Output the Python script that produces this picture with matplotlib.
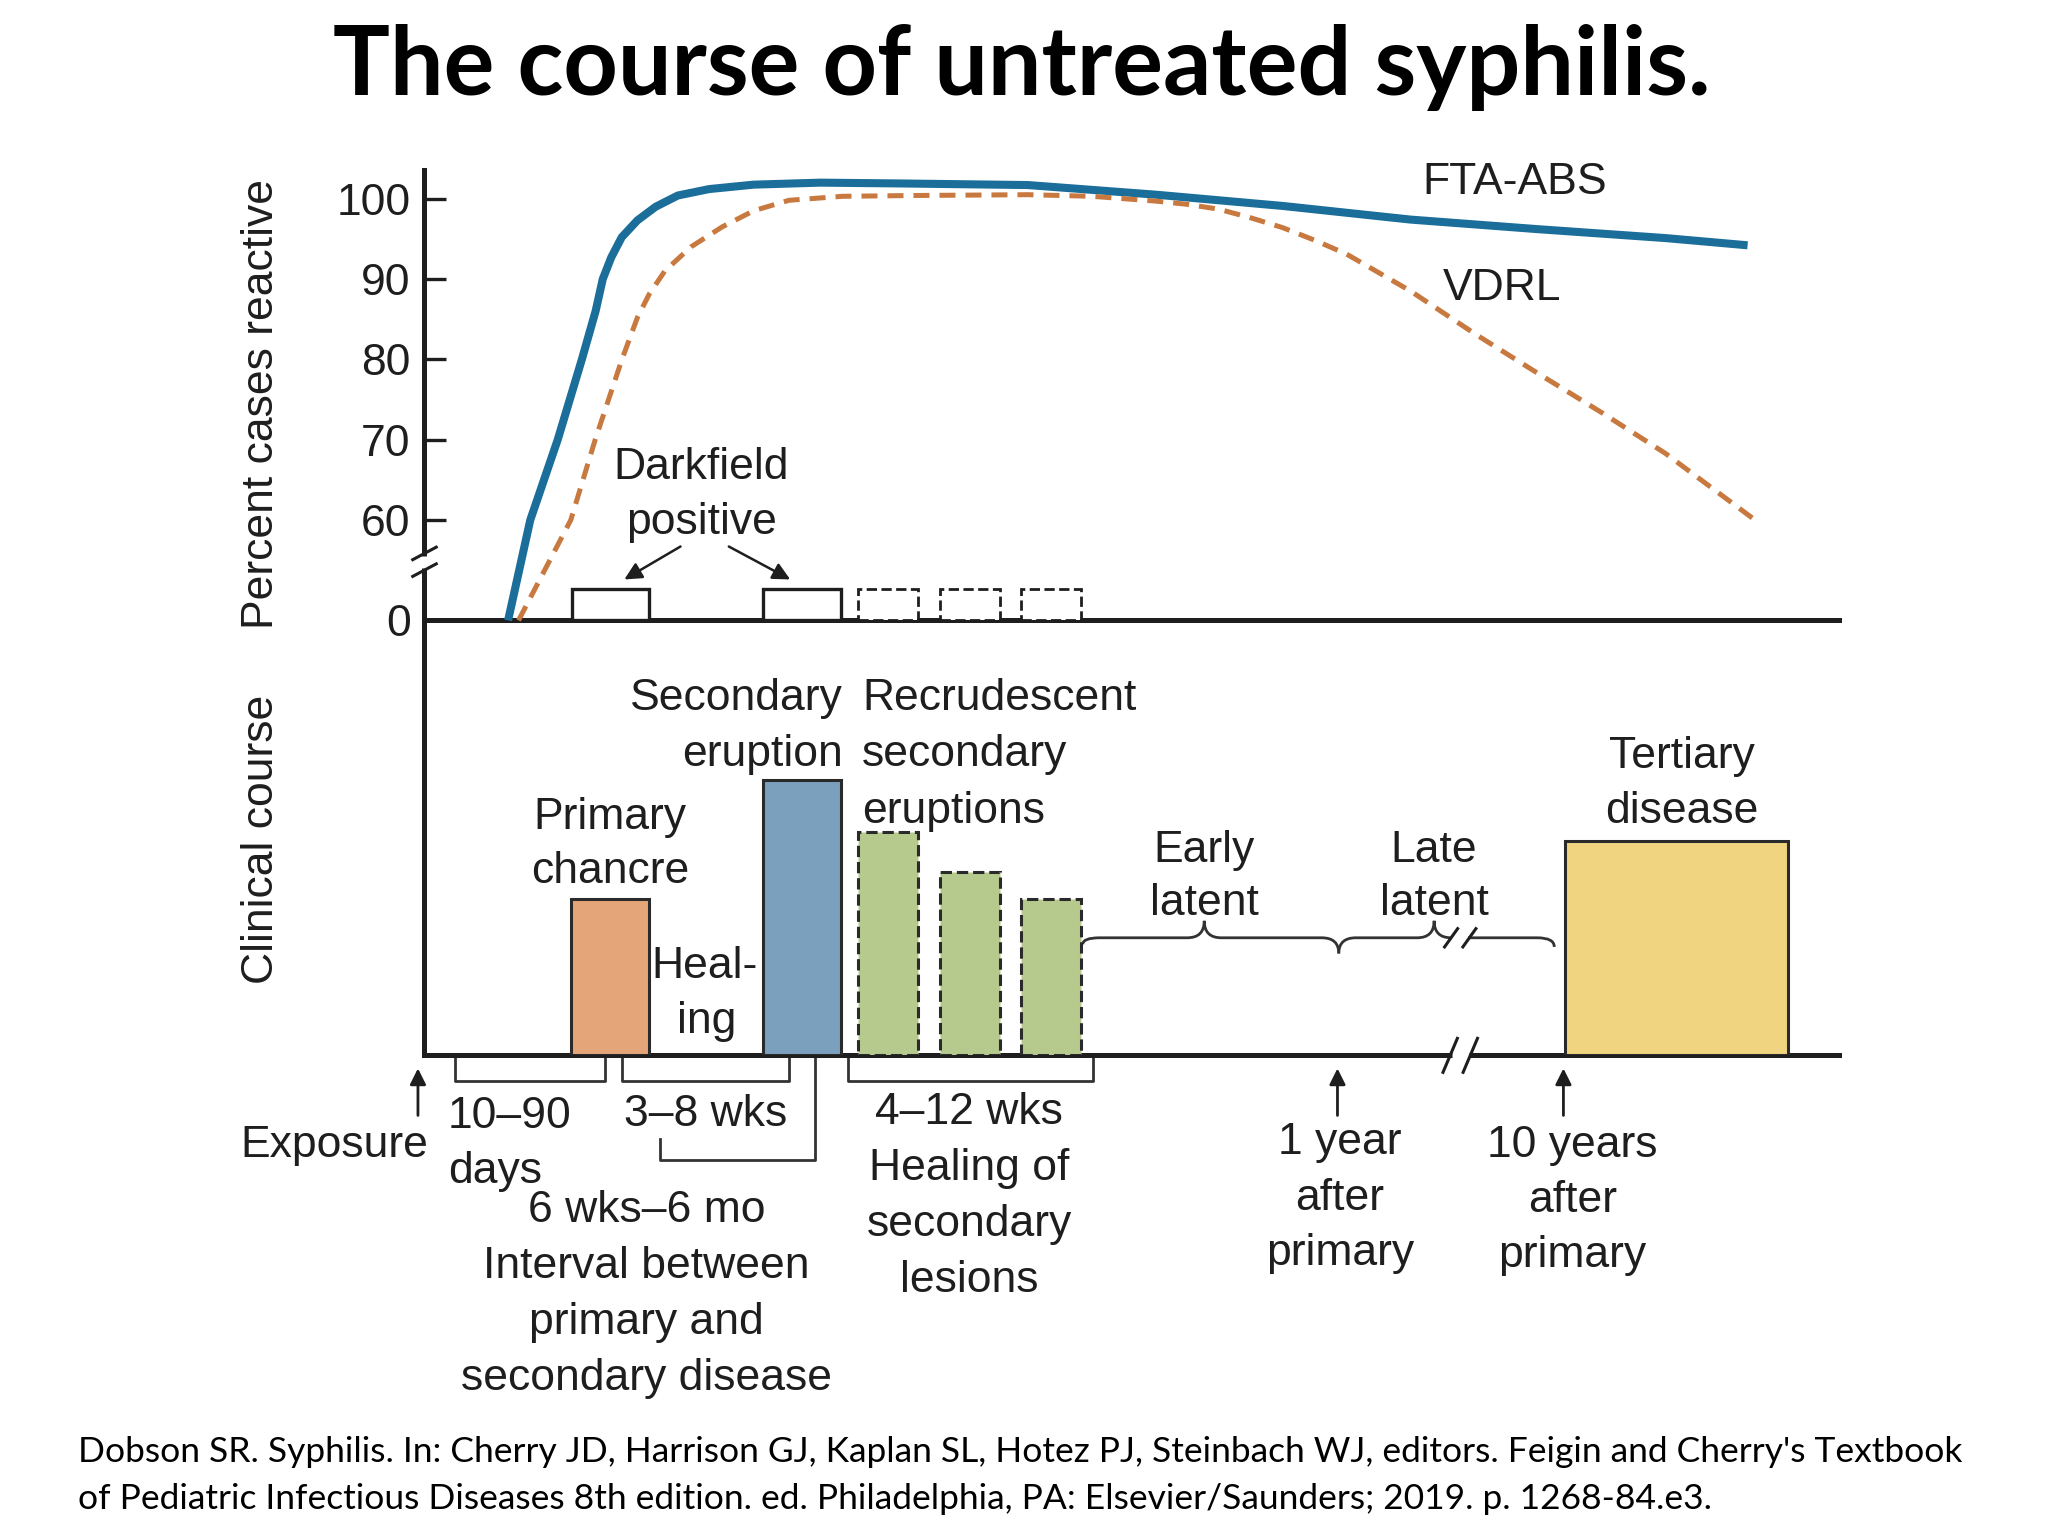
import matplotlib.pyplot as plt
from matplotlib.path import Path
from matplotlib.patches import PathPatch

# serology curves (x: schematic timeline units, y: percent of cases reactive)
fta_x = [6.4, 8.1, 10.2, 12.05, 13.1, 13.65, 14.3, 15.1, 16.3, 17.7, 19.4, 21.8,
         25.2, 30.3, 36.4, 46.2, 56.0, 65.7, 75.5, 85.3, 95.0, 101.3]
fta_y = [0, 60, 70, 80, 86, 90, 92.7, 95.2, 97.3, 99.0, 100.4, 101.2,
         101.75, 102.0, 101.9, 101.7, 100.5, 99.1, 97.4, 96.2, 95.1, 94.2]
vdrl_x = [7.2, 11.2, 13.07, 15.12, 16.3, 17.2, 18.4, 20.4, 22.8, 25.2, 27.9, 32.0,
          37.5, 46.2, 51.1, 56.0, 58.4, 60.8, 63.3, 65.7, 68.2, 70.6, 75.5, 80.4,
          85.3, 90.2, 95.0, 101.9]
vdrl_y = [0, 60, 70, 80, 85.2, 88.1, 91, 94, 96.5, 98.5, 99.8, 100.3,
          100.4, 100.5, 100.3, 99.7, 99.3, 98.7, 97.6, 96.4, 94.8, 93.1, 88.5, 83.2,
          78.2, 73.3, 68.3, 59.8]

# darkfield positive boxes
dark_start = [11.3, 25.9, 33.2, 39.5, 45.7]
dark_width = [5.9, 6.0, 4.6, 4.6, 4.6]
dark_dashed = [False, False, True, True, True]

# clinical course bars
bar_start = [11.2, 25.9, 33.2, 39.5, 45.7, 87.3]
bar_width = [6.0, 6.0, 4.6, 4.6, 4.6, 17.1]
bar_height = [12.0, 21.1, 17.1, 14.0, 12.0, 16.4]
bar_colors = ['#e4a678', '#7ba0be', '#b6ca8e', '#b6ca8e', '#b6ca8e', '#f0d480']
bar_dashed = [False, False, True, True, True, False]

pct_ticks = [0, 60, 70, 80, 90, 100]

FONT = 'Liberation Sans'
FS = 32
INK = '#1e1e1e'
BREAK0 = 47.5  # where 0 % sits below the axis break


def squash(p):
    # values under 60 are compressed into the break zone
    return [v if v >= 60 else BREAK0 + v * (60 - BREAK0) / 60 for v in p]


def txt(ax, x, y, s, ha='center', **kw):
    ax.text(x, y, s, ha=ha, va='center', fontsize=FS, family=FONT, color=INK, **kw)


def stack(ax, x, y, lines, step, ha='center'):
    for i, s in enumerate(lines):
        txt(ax, x, y - i * step, s, ha=ha)


def brace(ax, xa, xm, xb, y0, h, da, db, r=1.3):
    verts = [(xa, y0 - da), (xa, y0), (xa + r, y0), (xm - r, y0),
             (xm, y0), (xm, y0 + h), (xm, y0), (xm + r, y0),
             (xb - r, y0), (xb, y0), (xb, y0 - db)]
    codes = [Path.MOVETO, Path.CURVE3, Path.CURVE3, Path.LINETO,
             Path.CURVE3, Path.CURVE3, Path.CURVE3, Path.CURVE3,
             Path.LINETO, Path.CURVE3, Path.CURVE3]
    ax.add_patch(PathPatch(Path(verts, codes), fill=False, lw=2, color='#333',
                           clip_on=False))


def cut(ax, x, y, dx, dy, horizontal=True, lw_gap=9):
    # white gap with two slashes
    if horizontal:
        ax.plot([x - dx * 0.6, x + dx * 0.6], [y, y], color='white', lw=lw_gap,
                solid_capstyle='butt', clip_on=False, zorder=5)
        for off in (-dx * 0.7, dx * 0.7):
            ax.plot([x + off - dx * 0.5, x + off + dx * 0.5], [y - dy, y + dy],
                    color=INK, lw=2.2, clip_on=False, zorder=6)
    else:
        ax.plot([x, x], [y - dy * 0.6, y + dy * 0.6], color='white', lw=lw_gap,
                solid_capstyle='butt', clip_on=False, zorder=5)
        for off in (-dy * 0.8, dy * 0.8):
            ax.plot([x - dx, x + dx], [y + off - dy * 0.6, y + off + dy * 0.6],
                    color=INK, lw=2.2, clip_on=False, zorder=6)


fig = plt.figure(figsize=(20.48, 15.36), dpi=100)
ax_top = fig.add_axes([0.20727, 0.59609, 0.69069, 0.29337])
ax_bot = fig.add_axes([0.20727, 0.31293, 0.69069, 0.28316])

for ax in (ax_top, ax_bot):
    ax.set_xlim(0, 108.3)
    for side in ('top', 'right'):
        ax.spines[side].set_visible(False)
    for side in ('left', 'bottom'):
        ax.spines[side].set_linewidth(3.6)
        ax.spines[side].set_color(INK)
    ax.set_xticks([])
    ax.patch.set_alpha(0)

# ---- percent reactive panel ----
ax_top.set_ylim(BREAK0, 103.6)
ax_top.set_yticks(squash(pct_ticks))
ax_top.set_yticklabels([str(t) for t in pct_ticks], fontsize=FS, family=FONT, color=INK)
ax_top.tick_params(axis='y', direction='in', length=16, width=2.4, pad=10, color=INK)
ax_top.yaxis.get_major_ticks()[0].tick1line.set_visible(False)

ax_top.plot(fta_x, squash(fta_y), color='#1b6e9a', lw=5.8, solid_capstyle='butt',
            solid_joinstyle='round', clip_on=False, zorder=4)
ax_top.plot(vdrl_x, squash(vdrl_y), color='#c8793f', lw=3.6, dashes=(3.2, 2.0),
            clip_on=False, zorder=4)

for s, w, d in zip(dark_start, dark_width, dark_dashed):
    ax_top.bar(s, 3.9, width=w, bottom=BREAK0, align='edge', color='white',
               edgecolor=INK, lw=2.4 if not d else 2.0,
               linestyle='--' if d else '-', zorder=3)

txt(ax_top, 83.5, 102.0, 'FTA-ABS')
txt(ax_top, 82.5, 88.8, 'VDRL')
stack(ax_top, 21.2, 66.5, ['Darkfield', 'positive'], 6.8)
arrow = dict(arrowstyle='-|>', lw=1.8, color=INK, mutation_scale=26, shrinkA=0, shrinkB=0)
ax_top.annotate('', xy=(15.3, 52.6), xytext=(19.6, 56.7), arrowprops=arrow)
ax_top.annotate('', xy=(28.0, 52.6), xytext=(23.3, 56.7), arrowprops=arrow)

cut(ax_top, 0, 54.8, 0.9, 1.3, horizontal=False)

# ---- clinical course panel ----
ax_bot.set_ylim(0, 33.3)
ax_bot.set_yticks([])
for s, w, h, c, d in zip(bar_start, bar_width, bar_height, bar_colors, bar_dashed):
    ax_bot.bar(s, h, width=w, align='edge', color=c, edgecolor='#2a2a2a',
               lw=2.2, linestyle='--' if d else '-', zorder=3)

stack(ax_bot, 32.0, 27.3, ['Secondary', 'eruption'], 4.3, ha='right')
stack(ax_bot, 33.5, 27.3, ['Recrudescent', 'secondary', 'eruptions'], 4.3, ha='left')
stack(ax_bot, 14.2, 18.2, ['Primary', 'chancre'], 4.1)
txt(ax_bot, 17.4, 6.8, 'Heal-', ha='left')
txt(ax_bot, 21.6, 2.6, 'ing')
stack(ax_bot, 59.7, 15.7, ['Early', 'latent'], 4.1)
stack(ax_bot, 77.3, 15.7, ['Late', 'latent'], 4.1)
stack(ax_bot, 96.3, 22.9, ['Tertiary', 'disease'], 4.2)

brace(ax_bot, 50.4, 59.7, 70.0, 9.0, 1.3, 0.5, 1.2)
brace(ax_bot, 70.0, 77.3, 86.5, 9.0, 1.3, 1.2, 0.7)
cut(ax_bot, 79.3, 9.0, 1.0, 0.7, lw_gap=7)
cut(ax_bot, 79.3, 0.0, 1.1, 1.3)

# ---- timeline annotations under the axis ----
def bracket(x0, x1, y1=-2.0):
    ax_bot.plot([x0, x0, x1, x1], [-0.2, y1, y1, -0.2], color='#333', lw=2,
                clip_on=False)

bracket(2.3, 13.8)
bracket(15.1, 27.9)
bracket(32.4, 51.2)
ax_bot.plot([29.9, 29.9, 18.0, 18.0], [-0.2, -8.0, -8.0, -6.4], color='#333', lw=2,
            clip_on=False)

up = dict(arrowstyle='-|>', lw=2, color=INK, mutation_scale=24, shrinkA=0, shrinkB=0)
for x in (-0.5, 69.9, 87.2):
    ax_bot.annotate('', xy=(x, -1.0), xytext=(x, -4.6), arrowprops=up,
                    annotation_clip=False)

txt(ax_bot, -6.9, -6.9, 'Exposure')
stack(ax_bot, 1.8, -4.7, ['10–90', 'days'], 4.2, ha='left')
txt(ax_bot, 21.5, -4.5, '3–8 wks')
stack(ax_bot, 17.0, -11.9, ['6 wks–6 mo', 'Interval between', 'primary and',
                            'secondary disease'], 4.27)
stack(ax_bot, 41.7, -4.4, ['4–12 wks', 'Healing of', 'secondary', 'lesions'], 4.27)
stack(ax_bot, 70.1, -6.7, ['1 year', 'after', 'primary'], 4.25)
stack(ax_bot, 87.9, -6.9, ['10 years', 'after', 'primary'], 4.2)

# axis titles
fig.text(0.1276, 1 - 309 / 1176, 'Percent cases reactive', rotation=90, ha='center',
         va='center', fontsize=FS, family=FONT, color=INK)
fig.text(0.1276, 1 - 643 / 1176, 'Clinical course', rotation=90, ha='center',
         va='center', fontsize=FS, family=FONT, color=INK)

fig.text(0.499, 0.9558, 'The course of untreated syphilis.', ha='center', va='center',
         fontsize=68.5, fontweight='bold', family='Lato', color='black')
fig.text(0.0383, 0.0544, "Dobson SR. Syphilis. In: Cherry JD, Harrison GJ, Kaplan SL, "
         "Hotez PJ, Steinbach WJ, editors. Feigin and Cherry's Textbook",
         ha='left', va='center', fontsize=25.5, family='Lato', color='black')
fig.text(0.0383, 0.0238, "of Pediatric Infectious Diseases 8th edition. ed. Philadelphia, "
         "PA: Elsevier/Saunders; 2019. p. 1268-84.e3.",
         ha='left', va='center', fontsize=25.5, family='Lato', color='black')

fig.savefig('out.png', dpi=100)
